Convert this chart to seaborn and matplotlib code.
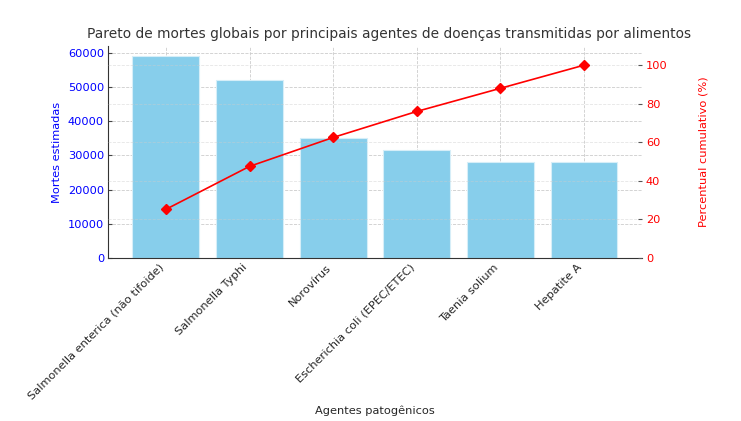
import matplotlib
matplotlib.use("Agg")
import matplotlib.pyplot as plt
import seaborn as sns
import numpy as np
import pandas as pd

categories = ["Salmonella enterica (não tifoide)", "Salmonella Typhi", "Norovírus",
              "Escherichia coli (EPEC/ETEC)", "Taenia solium", "Hepatite A"]
deaths = [59000, 52000, 35000, 31500, 28000, 28000]
cum_pct = list(np.cumsum(deaths) / np.sum(deaths) * 100)

sns.set_style("whitegrid", {"grid.linestyle": "--", "grid.color": "#cccccc"})
plt.rcParams['font.family'] = ['DejaVu Sans']

df = pd.DataFrame({"agente": categories, "mortes": deaths, "cum": cum_pct})

fig, ax1 = plt.subplots(figsize=(7.41, 4.21), dpi=100)
fig.subplots_adjust(left=0.146, right=0.866, top=0.891, bottom=0.387)

sns.barplot(data=df, x="agente", y="mortes", color="skyblue", saturation=1,
            edgecolor="#d6eef8", linewidth=0.8, ax=ax1, width=0.8)
ax1.set_ylabel("Mortes estimadas", color="blue", fontsize=8.2, labelpad=4)
ax1.set_xlabel("Agentes patogênicos", fontsize=8.2, labelpad=3)
ax1.tick_params(axis="y", colors="blue", labelsize=8.2, length=3, direction="in", pad=3)
ax1.tick_params(axis="x", labelsize=8.2, length=3, direction="in", pad=3)
ax1.tick_params(axis="both", color="#444444")
ax1.set_xticks(range(len(categories)))
ax1.set_xticklabels(categories, rotation=45, ha="right")
ax1.set_ylim(0, 61950)
ax1.grid(True, linestyle="--", color="#cccccc", linewidth=0.6)

ax2 = ax1.twinx()
ax2.plot(range(len(categories)), cum_pct, color="red", marker="D", markersize=5, linewidth=1.2)
ax2.set_ylabel("Percentual cumulativo (%)", color="red", fontsize=8.2, labelpad=22)
ax2.tick_params(axis="y", colors="red", labelsize=8.2, length=3, direction="in", pad=3)
ax2.tick_params(axis="y", color="#555555")
ax2.set_ylim(0, 110)
ax2.set_yticks([0, 20, 40, 60, 80, 100])
ax2.grid(True, axis="both", linestyle="--", color="#cccccc", linewidth=0.6, alpha=0.5)

for ax in (ax1, ax2):
    for s in ["top", "right", "left"]:
        ax.spines[s].set_visible(False)
ax1.spines["left"].set_visible(True)
ax1.spines["left"].set_color("#333333")
ax1.spines["bottom"].set_color("#333333")
ax2.spines["bottom"].set_visible(False)
ax1.tick_params(axis="both", which="both", left=True, bottom=True)
ax2.tick_params(axis="y", right=True)

ax1.set_title("Pareto de mortes globais por principais agentes de doenças transmitidas por alimentos",
              fontsize=9.9, color="#333333", x=0.527)
fig.savefig("out.png", dpi=100)
